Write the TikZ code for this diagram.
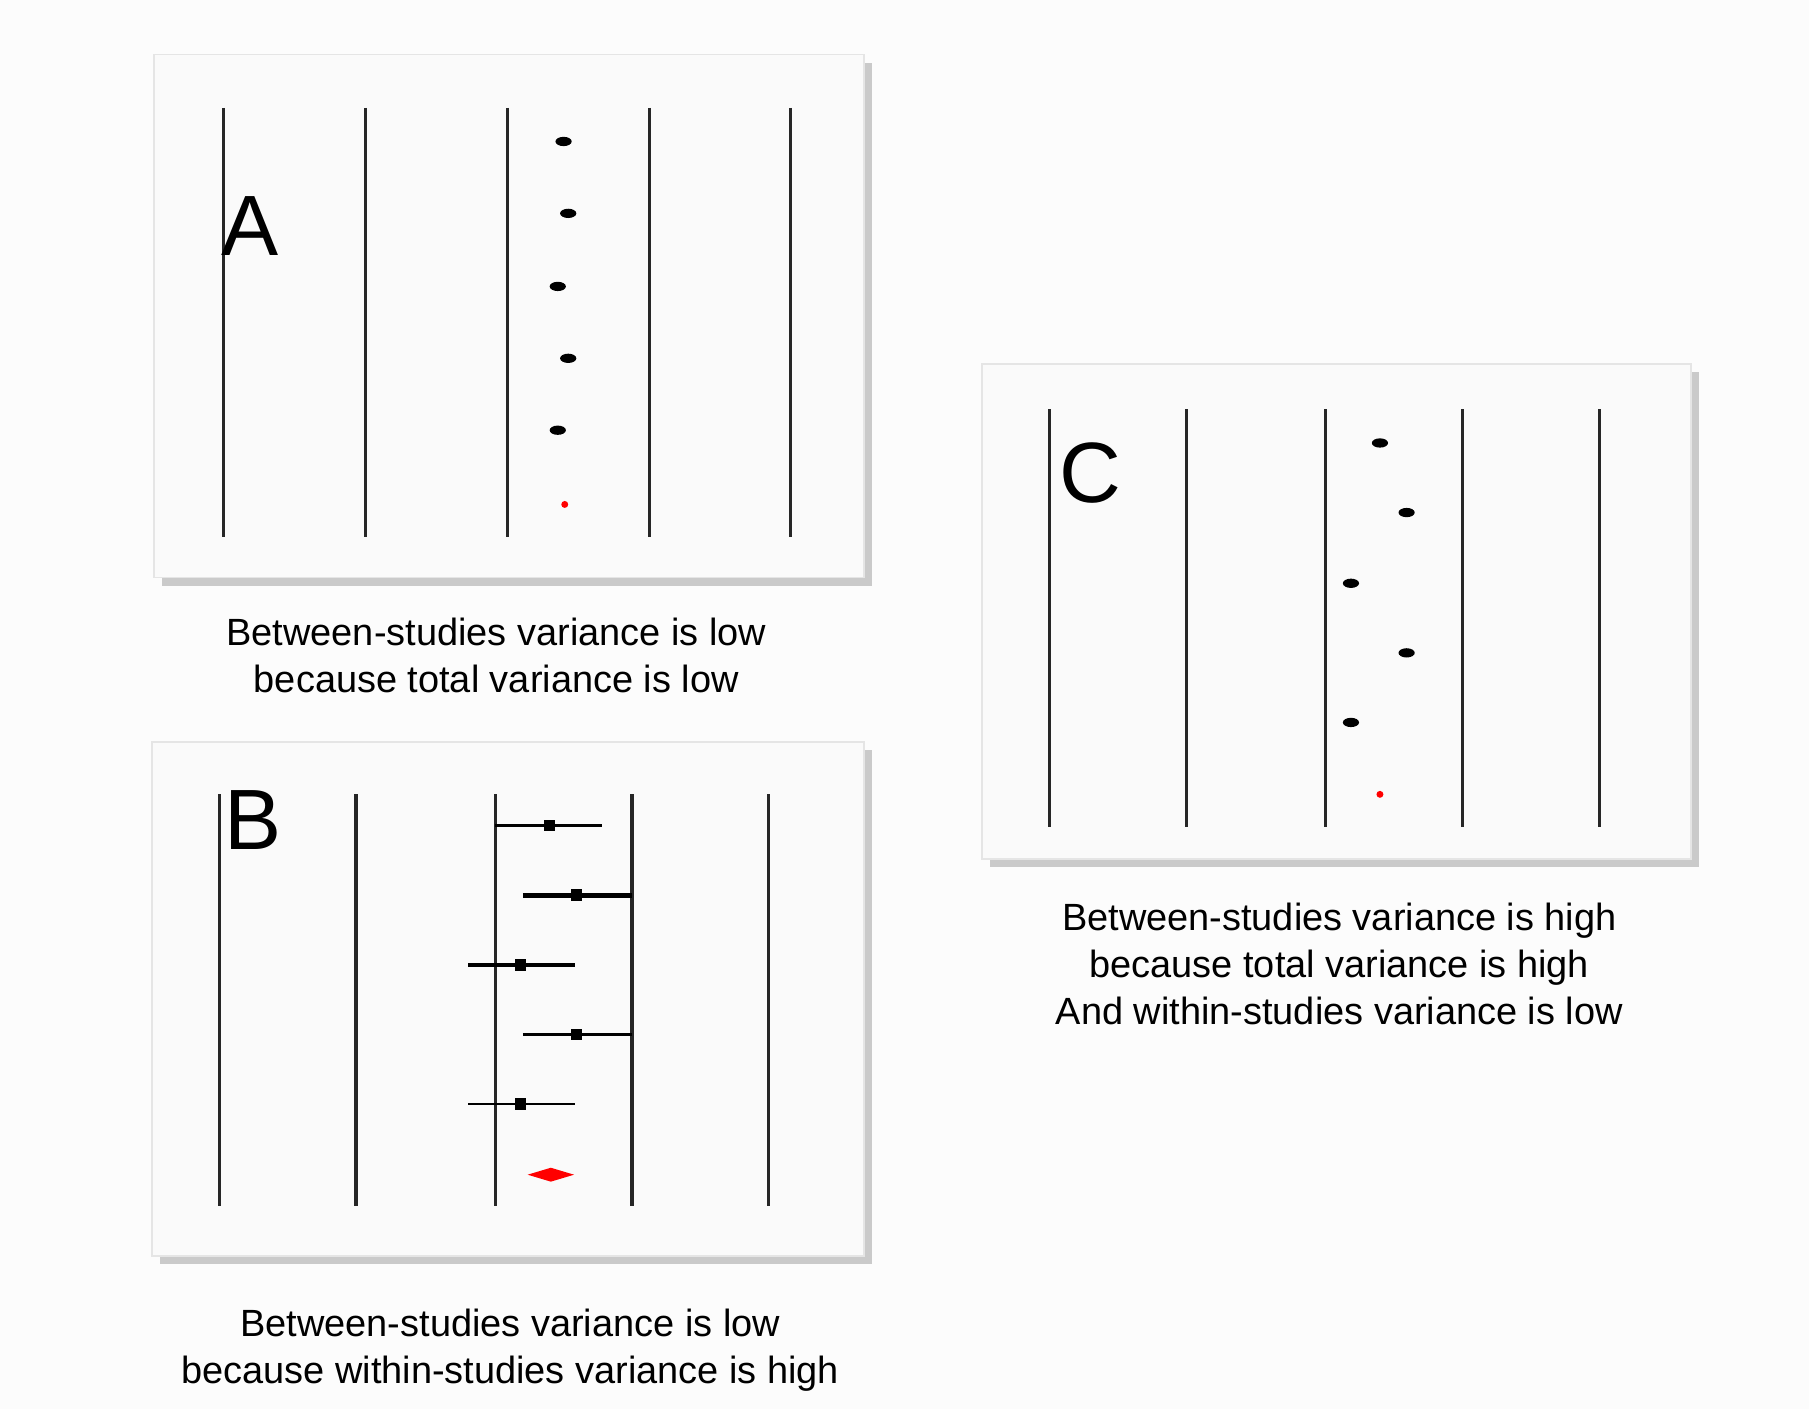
\documentclass[tikz,border=0pt]{standalone}
\usepackage{fontspec}
\setmainfont{Liberation Sans}
\usetikzlibrary{shadows}
\begin{document}
\begin{tikzpicture}[x=0.01cm,y=-0.01cm,
  panel/.style={draw=black!10,fill=black!2,drop shadow={shadow xshift=2pt,shadow yshift=-2pt,fill=black!40}},
  vline/.style={line width=0.75pt,black!85},
  captext/.style={font=\fontsize{9.3}{11.5}\selectfont,align=center},
  lett/.style={font=\fontsize{21}{21}\selectfont}]
\useasboundingbox[fill=black!1] (0,0) rectangle (1560,1215);
% Panel A
\fill[panel] (133,47) rectangle (745,498);
\foreach \x in {193,315,438,560,682} \draw[vline] (\x,93) -- (\x,463);
\foreach \x/\y in {486/122,490/184,481/247,490/309,481/371} \fill (\x,\y) ellipse (7 and 4);
\fill[red] (487,435) circle (3);
\node[lett] (la) at (216,195) {A};
\node[captext] (ca) at (428,565) {Between-studies variance is low\\because total variance is low};
% Panel B
\fill[panel] (131,640) rectangle (745,1083);
\foreach \x in {189,307,427,545,663} \draw[vline] (\x,685) -- (\x,1040);
\foreach \a/\b/\d/\y/\w in {427/519/474/712/0.9,451/545/497/772/1.2,404/496/449/832/1.1,451/545/497/892/0.6,404/496/449/952/0.6} {
  \draw[line width=\w pt] (\a,\y) -- (\b,\y);
  \fill (\d-5,\y-5) rectangle (\d+5,\y+5);}
\fill[red] (455,1013) -- (475,1007) -- (495,1013) -- (475,1019) -- cycle;
\node[lett] (lb) at (218,707) {B};
\node[captext] (cb) at (440,1164) {Between-studies variance is low\\because within-studies variance is high};
% Panel C
\fill[panel] (847,314) rectangle (1458,741);
\foreach \x in {905,1023,1143,1261,1379} \draw[vline] (\x,353) -- (\x,713);
\foreach \x/\y in {1190/382,1213/442,1165/503,1213/563,1165/623} \fill (\x,\y) ellipse (7 and 4);
\fill[red] (1190,685) circle (3);
\node[lett] (lc) at (940,408) {C};
\node[captext] (cc) at (1155,831) {Between-studies variance is high\\because total variance is high\\And within-studies variance is low};
\end{tikzpicture}
\end{document}
